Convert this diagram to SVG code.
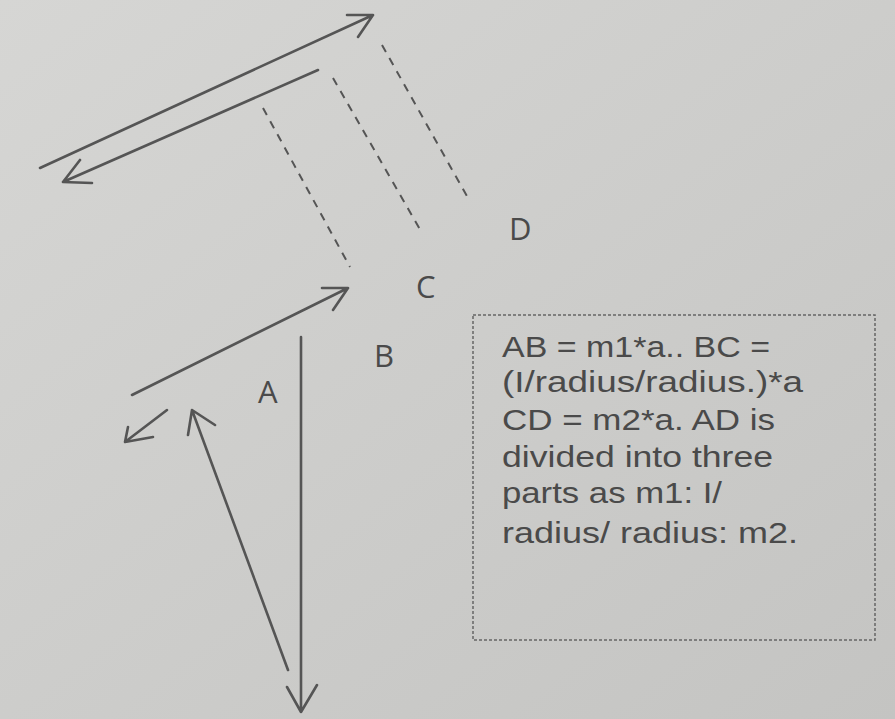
<svg xmlns="http://www.w3.org/2000/svg" width="895" height="719" viewBox="0 0 895 719">
<defs>
<linearGradient id="bg" x1="0" y1="0" x2="1" y2="1">
<stop offset="0" stop-color="#d6d6d4"/>
<stop offset="1" stop-color="#c4c4c2"/>
</linearGradient>
<style>
.ln{stroke:#555;stroke-width:2.6;fill:none;stroke-linecap:round;stroke-linejoin:round}
.ds{stroke:#555;stroke-width:2;fill:none;stroke-dasharray:8 7}
.lb{font-family:"Open Sans","Liberation Sans",sans-serif;font-size:31px;fill:#4a4a4a}
.tx{font-family:"Liberation Sans","Open Sans",sans-serif;font-size:29px;fill:#4a4a4a}
</style>
</defs>
<rect width="895" height="719" fill="url(#bg)"/>
<g id="connectors">
<path class="ln" d="M40 168 L373 15 M347 15 L373 15 L358 37"/>
<path class="ln" d="M318 70 L63 182 M80 160 L63 182 L92 183"/>
<path class="ds" d="M263 108 L350 267"/>
<path class="ds" d="M333 78 L422 233"/>
<path class="ds" d="M382 45 L468 198"/>
<path class="ln" d="M132 395 L348 288 M322 288 L348 288 L333 310"/>
<path class="ln" d="M167 410 L125 442 M128 427 L125 442 L153 437"/>
<path class="ln" d="M288 670 L192 410 M188 435 L192 410 L215 425"/>
<path class="ln" d="M301 337 L301 712 M287 687 L301 712 L317 685"/>
</g>
<g id="label-A"><text class="lb" x="258" y="403">A</text></g>
<g id="label-B"><text class="lb" x="374" y="367">B</text></g>
<g id="label-C"><text class="lb" x="416" y="298">C</text></g>
<g id="label-D"><text class="lb" x="509" y="240">D</text></g>
<g id="note">
<rect x="473" y="315" width="402" height="325" fill="none" stroke="#666" stroke-width="1.5" stroke-dasharray="3 2"/>
<text class="tx" x="502" y="357" textLength="268" lengthAdjust="spacingAndGlyphs">AB = m1*a..  BC =</text>
<text class="tx" x="502" y="392" textLength="301" lengthAdjust="spacingAndGlyphs">(I/radius/radius.)*a</text>
<text class="tx" x="502" y="430" textLength="273" lengthAdjust="spacingAndGlyphs">CD = m2*a.  AD is</text>
<text class="tx" x="502" y="467" textLength="271" lengthAdjust="spacingAndGlyphs">divided into three</text>
<text class="tx" x="502" y="503" textLength="220" lengthAdjust="spacingAndGlyphs">parts as m1: I/</text>
<text class="tx" x="502" y="543" textLength="296" lengthAdjust="spacingAndGlyphs">radius/ radius: m2.</text>
</g>
</svg>
